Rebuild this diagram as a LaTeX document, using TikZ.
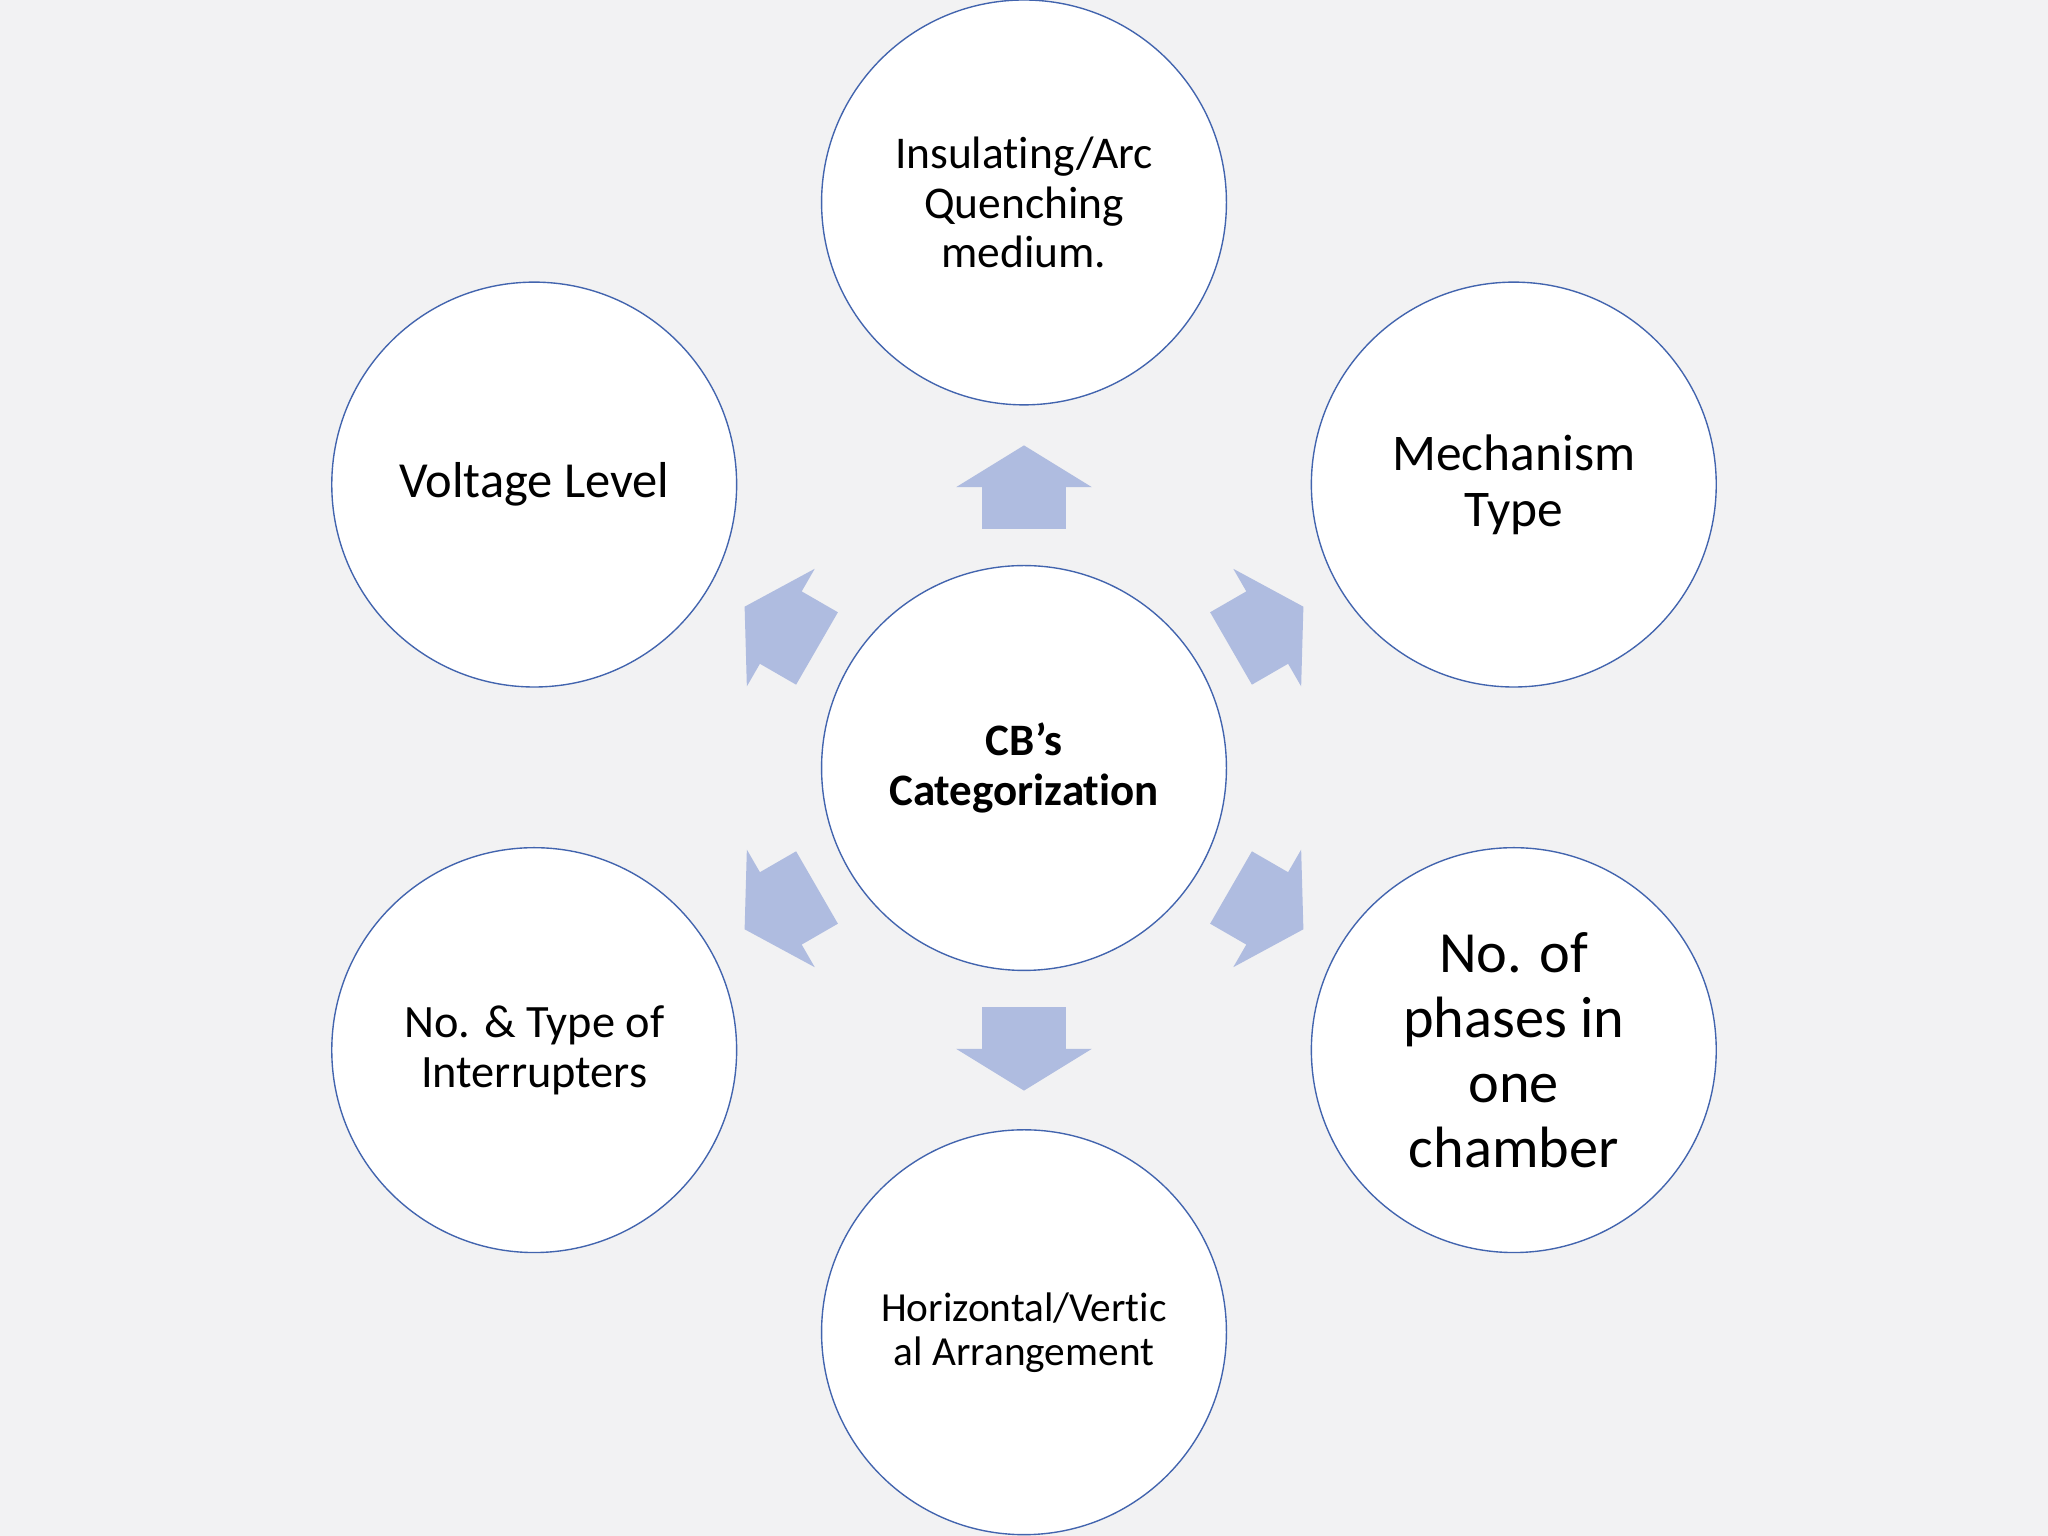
\documentclass[tikz,border=0pt]{standalone}
\usepackage{fontspec}
\setmainfont{Carlito}[Ligatures={NoCommon}]
\begin{document}
\begin{tikzpicture}[x=0.1cm,y=0.1cm,
  circ/.style={circle,draw=cborder,line width=3pt,fill=white,minimum size=31cm,inner sep=0pt,align=center},
  blk/.style={fill=arrowc}]
\definecolor{bg}{HTML}{F2F2F3}
\definecolor{cborder}{HTML}{4264AE}
\definecolor{arrowc}{HTML}{AFBCE0}
\fill[bg] (0,0) rectangle (1568,1176);
\useasboundingbox (0,0) rectangle (1568,1176);
\node[circ,font=\fontsize{98}{110}\selectfont\bfseries] (c) at (784,588) {CB’s\\Categorization};
\node[circ,font=\fontsize{99}{108}\selectfont] (t) at (784,1021) {Insulating/Arc\\Quenching\\medium.};
\node[circ,font=\fontsize{110}{122}\selectfont] (ul) at (409,805) {Voltage Level};
\node[circ,font=\fontsize{112}{122}\selectfont] (ur) at (1159,805) {Mechanism\\Type};
\node[circ,font=\fontsize{101}{108}\selectfont] (ll) at (409,372) {No. \& Type of\\Interrupters};
\node[circ,font=\fontsize{127}{142}\selectfont] (lr) at (1159,372) {No. of\\phases in\\one\\chamber};
\node[circ,font=\fontsize{90}{96}\selectfont] (b) at (784,156) {Horizontal/Vertic\\al Arrangement};
\foreach \a in {90,30,-30,-90,-150,150}{
  \fill[blk,shift={(c)},rotate=\a] (183,-32) -- (215,-32) -- (215,-52) -- (247,0) -- (215,52) -- (215,32) -- (183,32) -- cycle;
}
\end{tikzpicture}
\end{document}
